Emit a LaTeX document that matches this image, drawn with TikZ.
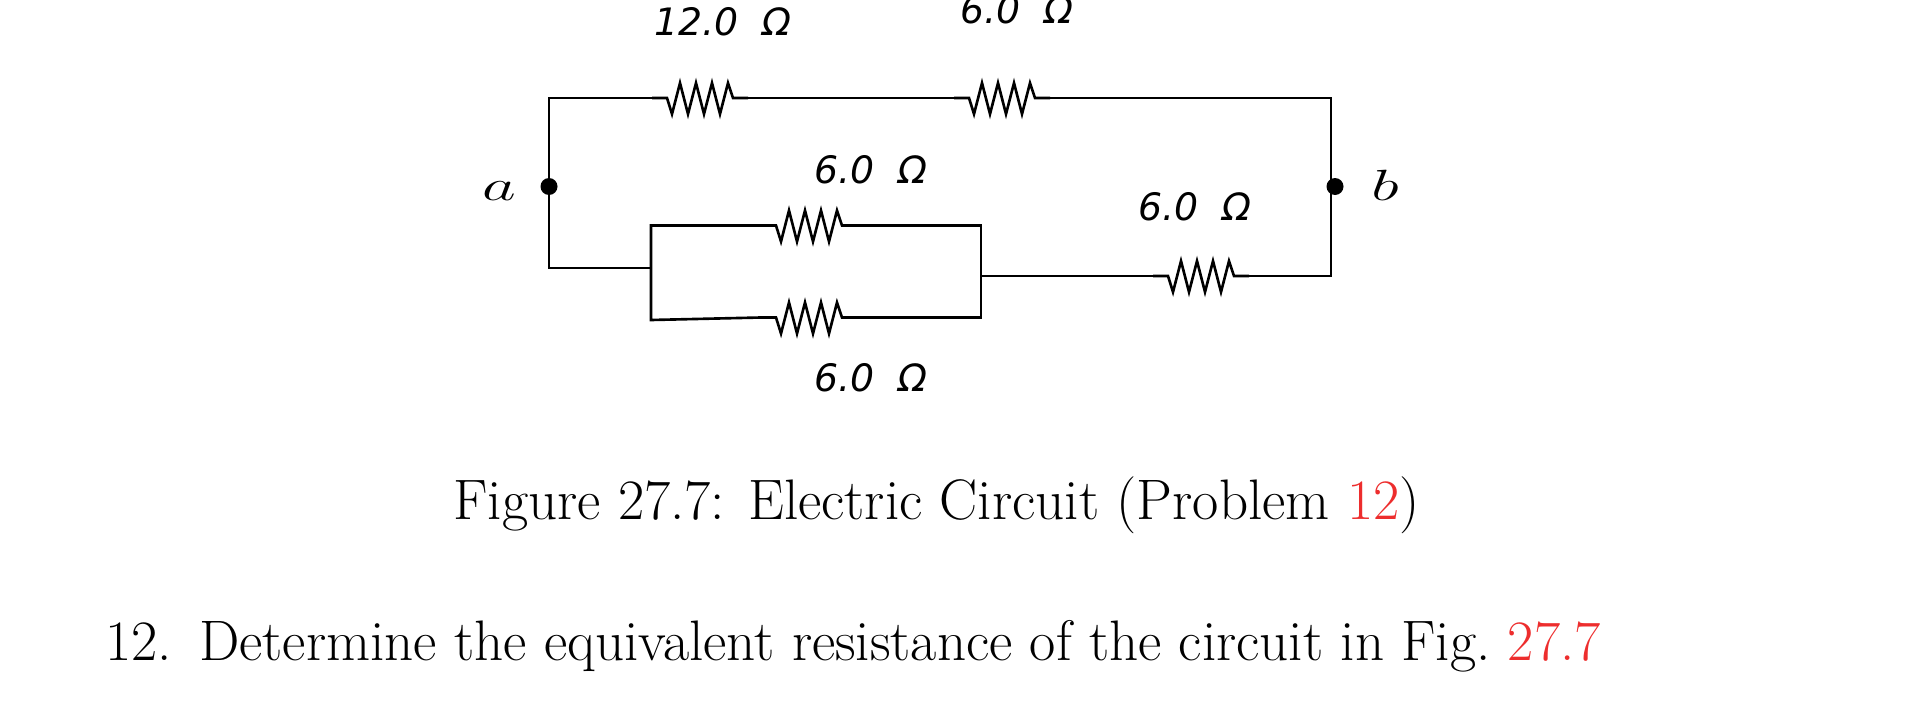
\documentclass[tikz,border=0pt]{standalone}
\usepackage{fontspec}
\usepackage{xcolor}
\newfontfamily\labelfont{DejaVu Sans}
\definecolor{linkred}{RGB}{237,45,45}
\newcommand{\widename}[1]{\scalebox{1.5}[1]{$#1$}}
\newcommand{\ohmgap}{\hspace{14pt}}
\usetikzlibrary{calc}

\begin{document}
\begin{tikzpicture}[
    x=0.02cm, y=-0.02cm,                 % one unit is one pixel of the page
    wire/.style={line width=1.5pt, line join=miter},
    terminal/.style={circle, fill=black, inner sep=0pt, minimum size=0.34cm},
    value/.style={inner sep=0pt, anchor=base, font=\labelfont\itshape\fontsize{21.5}{24}\selectfont},
    endname/.style={inner sep=0pt, anchor=base, font=\fontsize{24}{28}\selectfont},
    caption/.style={inner sep=0pt, anchor=base west, font=\fontsize{32.5}{38}\selectfont},
    resistor/.pic={
        \coordinate (-in) at (-48,0);
        \coordinate (-out) at (48,0);
        \draw[wire] (-in) -- (-33,0) -- (-28,16) -- (-20,-15) -- (-12,16) -- (-4,-15)
            -- (4,16) -- (12,-15) -- (20,16) -- (28,-15) -- (33,0) -- (-out);
    }
]
\useasboundingbox (0,0) rectangle (1910,710);

% resistors
\pic (rtopa) at (700,98) {resistor};
\pic (rtopb) at (1002,98) {resistor};
\pic (rmidup) at (809,225.5) {resistor};
\pic (rmiddown) at (809,317.5) {resistor};
\pic (rlow) at (1201,276) {resistor};

% corners of the loop
\coordinate (topleft) at (549,98);
\coordinate (topright) at (1331,98);
\coordinate (lowleft) at (549,268);
\coordinate (lowright) at (1331,276);
\coordinate (boxjoin) at (651,268);
\coordinate (boxnw) at (651,225.5);
\coordinate (boxsw) at (651,320);
\coordinate (boxne) at (981,225.5);
\coordinate (boxse) at (981,317.5);
\coordinate (boxout) at (981,276);

% terminals
\node[terminal] (ta) at (549,186.5) {};
\node[terminal] (tb) at (1335,186.5) {};

% wires
\draw[wire] (rtopa-in) -- (topleft) -- (lowleft) -- (boxjoin);
\draw[wire] (rtopa-out) -- (rtopb-in);
\draw[wire] (rtopb-out) -- (topright) -- (lowright) -- (rlow-out);
\draw[wire] (rmidup-in) -- (boxnw) -- (boxsw) -- (rmiddown-in);
\draw[wire] (rmidup-out) -- (boxne) -- (boxse) -- (rmiddown-out);
\draw[wire] (boxout) -- (rlow-in);

% labels
\node[value] (ltopa) at (723,35) {12.0\ohmgap Ω};
\node[value] (ltopb) at (1017,24) {6.0\ohmgap Ω};
\node[value] (lmidup) at (871,183) {6.0\ohmgap Ω};
\node[value] (lmiddown) at (871,391) {6.0\ohmgap Ω};
\node[value] (llow) at (1195,220) {6.0\ohmgap Ω};
\node[endname] (na) at (499,200) {\widename{a}};
\node[endname] (nb) at (1385,200) {\widename{b}};

% text below the circuit
\node[caption] (figcap) at (453,519) {Figure 27.7: Electric Circuit (Problem {\color{linkred}12})};
\node[caption] (question) at (105,660) {12.\hspace{15.5pt}Determine the equivalent resistance of the circuit in Fig.\ {\color{linkred}27.7}};
\end{tikzpicture}
\end{document}
